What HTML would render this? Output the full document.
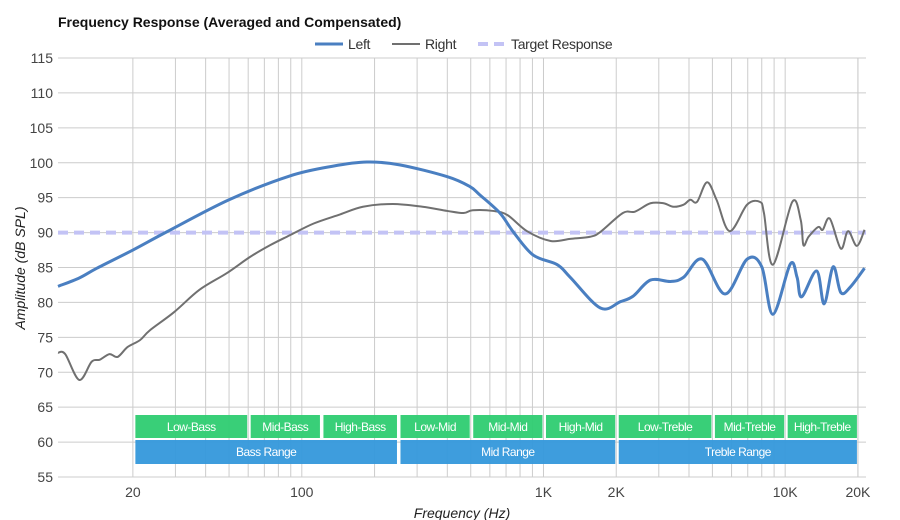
<!DOCTYPE html>
<html><head><meta charset="utf-8">
<style>
body{margin:0;background:#fff;}
svg{display:block;font-family:"Liberation Sans",sans-serif;}
</style></head>
<body>
<svg id="chart" width="900" height="520">
<text x="58" y="27" font-size="14" font-weight="bold" fill="#111">Frequency Response (Averaged and Compensated)</text>
<g>
 <g><line x1="315" y1="44" x2="343" y2="44" stroke="#4a7fc1" stroke-width="3"/><text x="348" y="49" font-size="14" fill="#333" letter-spacing="-0.3">Left</text></g>
 <g><line x1="392" y1="44" x2="420" y2="44" stroke="#707070" stroke-width="2"/><text x="425" y="49" font-size="14" fill="#333" letter-spacing="-0.3">Right</text></g>
 <g><line x1="478" y1="44" x2="506" y2="44" stroke="#c3c3f5" stroke-width="4" stroke-dasharray="10,6"/><text x="511" y="49" font-size="14" fill="#333" letter-spacing="-0.3">Target Response</text></g>
</g>
<g id="grid"></g>
<g id="bands"></g>
<g id="series"></g>
<g id="axes"></g>
<text x="462" y="518" font-size="14" font-style="italic" text-anchor="middle" fill="#222">Frequency (Hz)</text>
<text transform="translate(25,268) rotate(-90)" font-size="14" font-style="italic" text-anchor="middle" fill="#222">Amplitude (dB SPL)</text>
</svg>
<script>
const yTicks=[55,60,65,70,75,80,85,90,95,100,105,110,115];
const xTickFreqs=[20,100,1000,2000,10000,20000];
const xTickLabels=["20","100","1K","2K","10K","20K"];
const target=90;
const leftFreq=[9.8,12,14.2,20,27.6,50,89,134,186,254,400,495,545,660,750,905,1140,1290,1720,2080,2350,2770,3360,3800,4540,5640,6960,8000,8900,10500,11200,11700,13500,14500,15800,17000,18600,21300];
const leftDb=[82.3,83.5,84.9,87.5,90.1,94.7,98.1,99.5,100.1,99.7,98.0,96.6,95.4,92.8,90.1,86.8,85.4,83.6,79.2,80.1,80.9,83.2,83.0,83.6,86.2,81.2,86.2,85.1,78.3,85.5,83.6,80.8,84.5,79.8,85.1,81.4,82.2,84.9];
const rightFreq=[9.8,10.5,12,13.5,14.6,16,17.3,19,21.4,23.5,29.6,37.7,49,61,74,89,112,144,179,238,316,400,467,510,620,710,855,1070,1290,1560,1720,2130,2390,2770,3140,3450,3800,4050,4320,4750,5200,5890,6960,7860,8170,8900,10700,11600,11900,12500,13700,14300,15300,17000,18200,19800,21300];
const rightDb=[72.8,72.6,68.9,71.5,71.8,72.6,72.2,73.6,74.6,76.0,78.6,81.8,84.2,86.5,88.2,89.6,91.3,92.6,93.7,94.1,93.7,93.1,92.8,93.2,93.1,92.5,90.2,88.8,89.1,89.4,90.1,92.8,93.0,94.2,94.2,93.7,94.0,94.7,94.4,97.2,94.7,90.2,94.0,94.4,92.8,85.4,94.4,91.8,88.2,89.4,90.8,90.4,92.0,87.7,90.2,88.1,90.4];
const bandNames=["Low-Bass","Mid-Bass","High-Bass","Low-Mid","Mid-Mid","High-Mid","Low-Treble","Mid-Treble","High-Treble"];
const bandEdges=[20,60,120,250,500,1000,2000,5000,10000,20000];
const rangeNames=["Bass Range","Mid Range","Treble Range"];
const rangeEdges=[20,250,2000,20000];

const NS="http://www.w3.org/2000/svg";
const X0=58,X1=866,Y0=58,Y1=477;
const fMin=9.8,fMax=21600;
function xs(f){return X0+(Math.log10(f)-Math.log10(fMin))/(Math.log10(fMax)-Math.log10(fMin))*(X1-X0);}
function ys(v){return Y1-(v-55)/(115-55)*(Y1-Y0);}
function mk(tag,attrs,parent){const e=document.createElementNS(NS,tag);for(const k in attrs)e.setAttribute(k,attrs[k]);parent.appendChild(e);return e;}
const grid=document.getElementById('grid'),bands=document.getElementById('bands'),series=document.getElementById('series'),axes=document.getElementById('axes');
yTicks.forEach(v=>{
 const l=mk('line',{x1:X0,x2:X1,y1:ys(v),y2:ys(v),stroke:'#cccccc','stroke-width':1},grid);
 
 
 const t=mk('text',{x:53,y:ys(v)+5,'font-size':14,'text-anchor':'end',fill:'#444'},axes);
 t.textContent=v;
 
 
});
for(let d=10;d<=10000;d*=10){for(let m=1;m<=9;m++){const f=d*m;if(f<20||f>20000)continue;
 const l=mk('line',{x1:xs(f),x2:xs(f),y1:Y0,y2:Y1,stroke:'#cccccc','stroke-width':1},grid);
 
 }}
{const l=mk('line',{x1:xs(20000),x2:xs(20000),y1:Y0,y2:Y1,stroke:'#cccccc'},grid);
 
 }
xTickFreqs.forEach((f,i)=>{
 const t=mk('text',{x:xs(f),y:497,'font-size':14,'text-anchor':'middle',fill:'#444'},axes);
 t.textContent=xTickLabels[i];
 
 
});
bandNames.forEach((n,i)=>{
 const a=xs(bandEdges[i])+2.5,b=xs(bandEdges[i+1])-1;
 const r=mk('rect',{x:a,y:415,width:b-a,height:23,fill:'#2ecc71','fill-opacity':0.95},bands);
 
 
 const t=mk('text',{x:(a+b)/2,y:431,'font-size':12,'text-anchor':'middle',fill:'#fff','letter-spacing':'-0.5'},bands);
 t.textContent=n;
 
 
});
rangeNames.forEach((n,i)=>{
 const a=xs(rangeEdges[i])+2.5,b=xs(rangeEdges[i+1])-1;
 const r=mk('rect',{x:a,y:440,width:b-a,height:24,fill:'#3498db','fill-opacity':0.95},bands);
 
 
 const t=mk('text',{x:(a+b)/2,y:456,'font-size':12,'text-anchor':'middle',fill:'#fff','letter-spacing':'-0.5'},bands);
 t.textContent=n;
 
 
});
function smooth(fr,db){const p=fr.map((f,i)=>[xs(f),ys(db[i])]);let d='M'+p[0][0]+','+p[0][1];
 for(let i=0;i<p.length-1;i++){const a=p[i-1]||p[i],b=p[i],c=p[i+1],e=p[i+2]||c;
  const c1=[b[0]+(c[0]-a[0])/6,b[1]+(c[1]-a[1])/6],c2=[c[0]-(e[0]-b[0])/6,c[1]-(e[1]-b[1])/6];
  d+=' C'+c1[0]+','+c1[1]+' '+c2[0]+','+c2[1]+' '+c[0]+','+c[1];}return d;}
const tl=mk('line',{x1:X0,x2:X1,y1:ys(target),y2:ys(target),stroke:'#c3c3f5','stroke-width':4,'stroke-dasharray':'10,6'},series);


const rp=mk('path',{d:smooth(rightFreq,rightDb),fill:'none',stroke:'#707070','stroke-width':2},series);


const lp=mk('path',{d:smooth(leftFreq,leftDb),fill:'none',stroke:'#4a7fc1','stroke-width':3},series);


</script>
</body></html>
